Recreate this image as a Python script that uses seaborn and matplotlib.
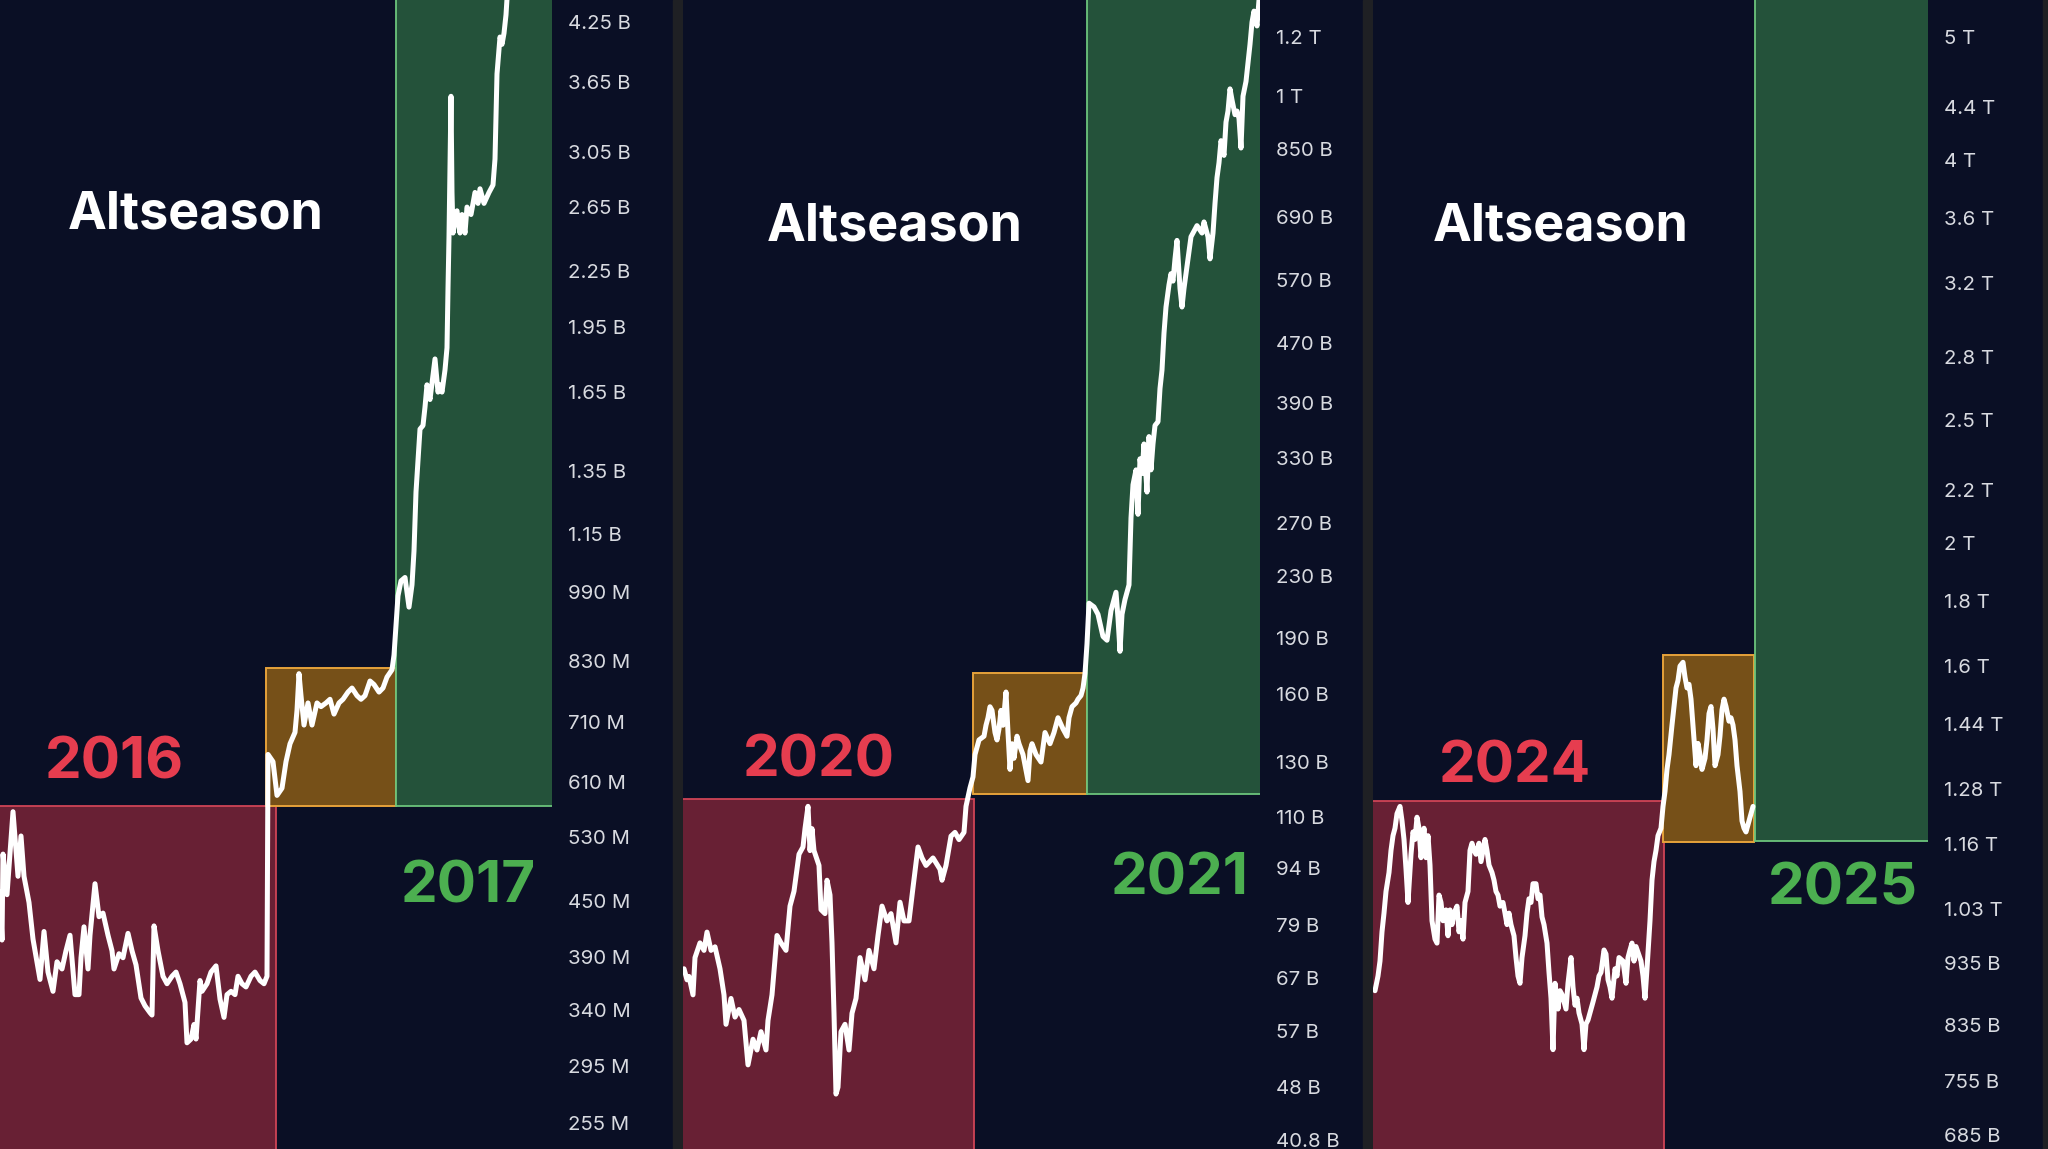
import numpy as np
import pandas as pd
import seaborn as sns
import matplotlib.pyplot as plt
from matplotlib.patches import Rectangle
from matplotlib.ticker import FixedLocator, NullLocator

# ---- panel 1 : 2016 -> 2017 (market cap, millions) ----
p1_x = [0, 2, 3, 7, 13, 18, 21, 24, 29, 33, 35, 40, 44, 48, 53, 57, 62, 66, 70, 75,
        79, 81, 84, 88, 90, 95, 99, 103, 108, 112, 114, 119, 123, 128, 132, 136, 141, 145, 150, 152,
        154, 158, 163, 167, 172, 176, 180, 185, 187, 191, 194, 196, 200, 202, 207, 211, 216, 220, 224, 227,
        231, 235, 238, 242, 246, 251, 255, 260, 264, 267, 268, 273, 277, 282, 286, 290, 295, 297, 299, 301,
        304, 308, 312, 317, 321, 326, 330, 334, 339, 343, 348, 352, 357, 361, 365, 370, 374, 379, 383, 387,
        392, 394, 396, 398, 401, 405, 409, 412, 414, 416, 420, 423, 425, 427, 430, 435, 438, 440, 442, 445,
        447, 448, 449, 451, 452, 453, 455, 457, 460, 462, 465, 467, 471, 475, 478, 480, 484, 489, 493, 495,
        497, 500, 502, 504, 506, 508]
p1_y = [460, 407, 507, 457, 565, 479, 531, 479, 448, 408, 396, 368, 416, 375, 357, 385, 378, 396, 412, 354,
        354, 389, 421, 378, 412, 470, 432, 436, 412, 396, 378, 393, 389, 414, 396, 382, 351, 344, 338, 336,
        422, 396, 371, 364, 371, 375, 364, 347, 313, 316, 328, 316, 367, 357, 364, 375, 381, 350, 334, 354,
        357, 354, 371, 364, 361, 371, 375, 367, 364, 371, 654, 642, 589, 600, 642, 672, 692, 732, 804, 760,
        705, 746, 705, 746, 739, 746, 753, 725, 746, 753, 767, 775, 760, 753, 760, 789, 782, 767, 775, 797,
        812, 843, 910, 981, 1019, 1028, 953, 1009, 1100, 1279, 1502, 1516, 1589, 1682, 1620, 1797, 1651, 1682, 1651, 1747,
        1849, 2150, 2455, 3516, 2750, 2479, 2550, 2624, 2479, 2599, 2479, 2649, 2599, 2750, 2674, 2776, 2674, 2750, 2803, 2995,
        3723, 4091, 4015, 4130, 4330, 4700]
p1_ticks = [255, 295, 340, 390, 450, 530, 610, 710, 830, 990,
            1150, 1350, 1650, 1950, 2250, 2650, 3050, 3650, 4250]
p1_labels = ["255 M", "295 M", "340 M", "390 M", "450 M", "530 M", "610 M", "710 M", "830 M", "990 M",
             "1.15 B", "1.35 B", "1.65 B", "1.95 B", "2.25 B", "2.65 B", "3.05 B", "3.65 B", "4.25 B"]
p1_range = (238.6, 4497)
p1_red = (276, 574)            # end of bear year, its high
p1_orange = (266, 396, 574, 816)
p1_green = (396, 574)
p1_years = ["2016", "2017"]

# ---- panel 2 : 2020 -> 2021 (billions) ----
p2_x = [1, 4, 6, 10, 12, 17, 21, 24, 28, 32, 37, 41, 43, 48, 52, 56, 61, 65, 70, 74,
        78, 83, 85, 89, 94, 98, 103, 107, 111, 116, 120, 122, 125, 127, 129, 131, 136, 138, 142, 144,
        147, 149, 151, 153, 155, 158, 162, 166, 169, 173, 177, 182, 186, 191, 195, 199, 204, 208, 213, 217,
        221, 226, 230, 235, 239, 243, 250, 257, 259, 263, 268, 272, 276, 281, 283, 287, 290, 292, 296, 301,
        303, 305, 307, 309, 312, 314, 316, 318, 320, 323, 325, 327, 329, 331, 334, 336, 340, 345, 347, 349,
        353, 358, 362, 367, 371, 375, 380, 384, 386, 389, 393, 395, 398, 400, 402, 404, 406, 411, 415, 420,
        424, 428, 433, 435, 437, 439, 442, 446, 448, 450, 453, 455, 457, 459, 461, 464, 466, 468, 470, 472,
        475, 477, 479, 481, 483, 486, 488, 490, 492, 494, 497, 499, 501, 503, 505, 508, 510, 514, 519, 521,
        525, 527, 530, 532, 534, 536, 538, 541, 543, 545, 547, 549, 552, 554, 556, 558, 560, 563, 565, 567,
        569, 571, 574, 576, 578]
p2_y = [69.0, 66.7, 67.4, 63.7, 71.4, 74.7, 73.0, 77.2, 73.0, 73.8, 69.0, 63.7, 58.2, 63.0, 59.5, 60.9, 58.9, 51.4, 55.6, 53.8,
        56.9, 53.8, 58.9, 63.7, 76.4, 74.7, 73.0, 83.6, 87.5, 98.0, 100.2, 106.0, 113.5, 99.1, 106.0, 99.1, 94.7, 82.7, 81.7, 90.5,
        86.5, 74.7, 60.2, 47.0, 48.0, 56.9, 58.2, 53.8, 60.2, 63.0, 71.4, 66.7, 73.0, 69.0, 76.4, 83.6, 79.9, 81.7, 74.7, 84.6,
        79.9, 79.9, 88.5, 100.2, 96.9, 94.7, 96.9, 93.6, 90.5, 94.7, 103.6, 104.8, 102.5, 104.8, 113.5, 120.1, 124.2, 133.0, 139.1, 140.7,
        145.5, 148.9, 154.0, 152.3, 142.3, 139.1, 143.9, 152.3, 145.5, 161.1, 142.3, 127.1, 137.5, 131.5, 140.7, 137.5, 133.0, 122.8, 134.5, 137.5,
        133.0, 130.0, 142.3, 137.5, 142.3, 148.9, 143.9, 140.7, 148.9, 154.0, 155.8, 157.6, 159.4, 163.0, 170.5, 186.7, 211.5, 209.1, 204.4, 191.0,
        188.8, 206.7, 218.7, 202.1, 182.5, 204.4, 213.9, 223.7, 274.6, 304.1, 318.2, 277.7, 329.2, 314.6, 344.5, 297.3, 352.4, 318.2, 344.5, 364.6,
        368.8, 408.3, 432.1, 483.9, 524.1, 561.0, 580.4, 567.4, 607.4, 642.8, 554.7, 524.1, 554.7, 580.4, 607.4, 650.0, 657.4, 672.5, 657.4, 680.2,
        650.0, 607.4, 657.4, 719.8, 779.1, 815.3, 872.5, 834.0, 923.4, 955.4, 1022.6, 988.5, 944.7, 955.4, 934.1, 853.1, 999.8, 1046.2, 1107.3, 1171.8,
        1254.3, 1297.6, 1240, 1342.6, 1450]
p2_ticks = [40.8, 48, 57, 67, 79, 94, 110, 130, 160, 190, 230, 270, 330, 390, 470, 570, 690, 850, 1000, 1200]
p2_labels = ["40.8 B", "48 B", "57 B", "67 B", "79 B", "94 B", "110 B", "130 B", "160 B", "190 B",
             "230 B", "270 B", "330 B", "390 B", "470 B", "570 B", "690 B", "850 B", "1 T", "1.2 T"]
p2_range = (39.72, 1342.6)
p2_red = (291, 116)
p2_orange = (290, 404, 118, 171)
p2_green = (404, 118)
p2_years = ["2020", "2021"]

# ---- panel 3 : 2024 -> 2025 (billions) ----
p3_x = [2, 5, 7, 9, 11, 13, 16, 18, 20, 22, 24, 27, 29, 31, 33, 35, 38, 40, 42, 44,
        46, 48, 51, 53, 55, 57, 59, 62, 64, 66, 68, 70, 73, 75, 77, 79, 81, 84, 86, 88,
        90, 92, 95, 97, 99, 101, 103, 106, 108, 110, 112, 114, 116, 119, 121, 123, 125, 127, 130, 132,
        134, 136, 138, 141, 143, 145, 147, 149, 152, 154, 156, 158, 160, 163, 165, 167, 169, 171, 174, 176,
        178, 180, 182, 185, 187, 189, 193, 195, 198, 200, 202, 204, 206, 209, 211, 213, 215, 217, 220, 224,
        226, 228, 231, 233, 235, 237, 239, 242, 244, 246, 250, 253, 255, 257, 259, 261, 263, 268, 270, 272,
        274, 277, 279, 281, 283, 285, 288, 290, 292, 294, 296, 299, 301, 303, 305, 307, 310, 312, 314, 316,
        318, 321, 323, 325, 327, 329, 332, 334, 336, 338, 340, 342, 345, 347, 349, 351, 353, 356, 358, 360,
        362, 364, 367, 369, 371, 373, 375, 378, 380]
p3_y = [889, 913, 938, 989, 1023, 1064, 1101, 1146, 1177, 1193, 1225, 1241, 1209, 1169, 1108, 1043, 1138, 1185, 1169, 1217,
        1193, 1131, 1193, 1131, 1177, 1116, 1009, 976, 969, 1057, 1043, 1009, 1029, 982, 1029, 1002, 1023, 1036, 989, 1009,
        976, 1043, 1064, 1146, 1161, 1146, 1138, 1161, 1123, 1146, 1169, 1146, 1116, 1101, 1086, 1064, 1057, 1036, 1043, 1023,
        1002, 1023, 1002, 982, 944, 913, 901, 944, 982, 1023, 1050, 1043, 1079, 1079, 1050, 1057, 1016, 1002, 969, 919,
        877, 799, 901, 860, 889, 883, 860, 901, 944, 895, 866, 877, 854, 837, 799, 837, 843, 854, 871, 895,
        913, 919, 957, 950, 907, 895, 877, 925, 913, 944, 938, 901, 944, 957, 969, 938, 963, 938, 913, 877,
        925, 1009, 1086, 1123, 1146, 1177, 1193, 1241, 1275, 1327, 1363, 1438, 1487, 1538, 1559, 1600, 1611, 1568, 1538, 1548,
        1507, 1400, 1336, 1391, 1363, 1327, 1354, 1400, 1468, 1487, 1428, 1336, 1363, 1410, 1478, 1507, 1487, 1448, 1457, 1438,
        1400, 1336, 1275, 1209, 1193, 1185, 1201, 1225, 1241]
p3_ticks = [685, 755, 835, 935, 1030, 1160, 1280, 1440, 1600, 1800,
            2000, 2200, 2500, 2800, 3200, 3600, 4000, 4400, 5000]
p3_labels = ["685 B", "755 B", "835 B", "935 B", "1.03 T", "1.16 T", "1.28 T", "1.44 T", "1.6 T", "1.8 T",
             "2 T", "2.2 T", "2.5 T", "2.8 T", "3.2 T", "3.6 T", "4 T", "4.4 T", "5 T"]
p3_range = (667.5, 5343)
p3_red = (291, 1254)
p3_orange = (290, 381, 1163, 1633)
p3_green = (382, 1165)
p3_years = ["2024", "2025"]

NAVY = "#0a0f25"
SEP = "#1f2024"
W, H = 2048, 1149

sns.set_theme(style="dark", rc={"axes.facecolor": NAVY, "figure.facecolor": NAVY})
plt.rcParams["font.family"] = ["Inter", "DejaVu Sans"]

fig = plt.figure(figsize=(20.48, 11.49), dpi=100)

# left px, width px, and text placement (axes fraction) for each panel
panels = [
    dict(left=0, width=552, x=p1_x, y=p1_y, ticks=p1_ticks, labels=p1_labels, yr=p1_range,
         red=p1_red, orange=p1_orange, green=p1_green, years=p1_years,
         alt=(0.355, 0.8007), y1=(0.2065, 0.3224), y2=(0.848, 0.2146)),
    dict(left=683, width=577, x=p2_x, y=p2_y, ticks=p2_ticks, labels=p2_labels, yr=p2_range,
         red=p2_red, orange=p2_orange, green=p2_green, years=p2_years,
         alt=(0.367, 0.7907), y1=(0.2357, 0.3239), y2=(0.861, 0.2211)),
    dict(left=1373, width=555, x=p3_x, y=p3_y, ticks=p3_ticks, labels=p3_labels, yr=p3_range,
         red=p3_red, orange=p3_orange, green=p3_green, years=p3_years,
         alt=(0.3387, 0.7907), y1=(0.2559, 0.3191), y2=(0.847, 0.2131)),
]

for p in panels:
    ax = fig.add_axes([p["left"] / W, 0, p["width"] / W, 1])
    ax.set_facecolor(NAVY)
    lo, hi = p["yr"]
    x_end = p["width"]

    # bear year box
    rx, rtop = p["red"]
    ax.add_patch(Rectangle((-20, lo / 2), rx + 20, rtop - lo / 2,
                           fc="#682034", ec="#cf4456", lw=1.3, zorder=1))
    # accumulation box
    ox0, ox1, oy0, oy1 = p["orange"]
    ax.add_patch(Rectangle((ox0, oy0), ox1 - ox0, oy1 - oy0,
                           fc="#765018", ec="#e6a23a", lw=1.4, zorder=2))
    # altseason box
    gx, gy = p["green"]
    ax.add_patch(Rectangle((gx, gy), x_end + 30 - gx, hi * 3 - gy,
                           fc="#24523a", ec="#6cc47c", lw=1.3, zorder=2))

    sns.lineplot(x=p["x"], y=p["y"], ax=ax, color="white", linewidth=3.6,
                 estimator=None, sort=False, zorder=5,
                 solid_joinstyle="round", solid_capstyle="round")

    ax.set_yscale("log")
    ax.set_xlim(0, x_end)
    ax.set_ylim(lo, hi)
    ax.yaxis.tick_right()
    ax.yaxis.set_major_locator(FixedLocator(p["ticks"]))
    ax.yaxis.set_minor_locator(NullLocator())
    ax.set_yticklabels(p["labels"])
    ax.tick_params(axis="y", length=0, pad=11.5, labelsize=14.7, labelcolor="#d8dae0")
    ax.set_xticks([])
    ax.set_xlabel("")
    ax.set_ylabel("")
    ax.grid(False)
    for s in ax.spines.values():
        s.set_visible(False)

    ax.text(*p["alt"], "Altseason", transform=ax.transAxes, ha="center", va="baseline",
            fontsize=37.5, fontweight="bold", color="white", zorder=6)
    ax.text(*p["y1"], p["years"][0], transform=ax.transAxes, ha="center", va="baseline",
            fontsize=42, fontweight="bold", color="#e63d4f", zorder=6)
    ax.text(*p["y2"], p["years"][1], transform=ax.transAxes, ha="center", va="baseline",
            fontsize=42, fontweight="bold", color="#4caf50", zorder=6)

# dark separators between the three screenshots
for x0, w in [(673, 10), (1363, 10), (2043, 5)]:
    fig.add_artist(Rectangle((x0 / W, 0), w / W, 1, transform=fig.transFigure,
                             color=SEP, zorder=0))

fig.savefig("out.png", dpi=100, facecolor=NAVY)
